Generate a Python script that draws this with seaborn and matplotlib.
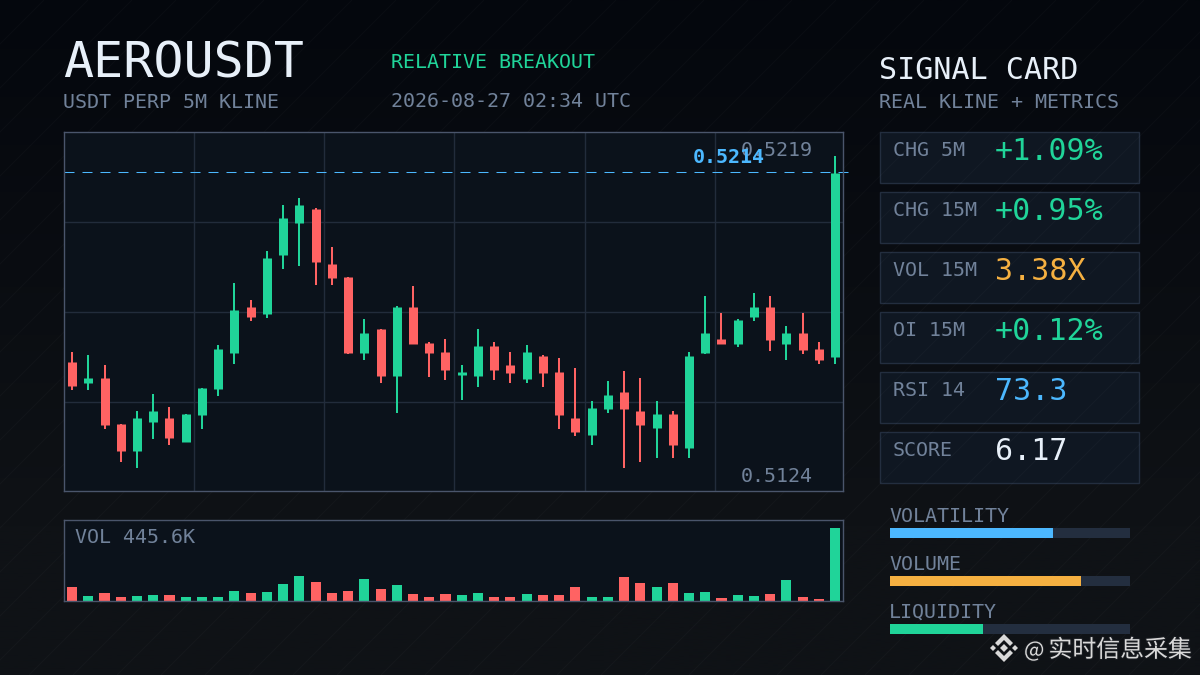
import numpy as np
import pandas as pd
import matplotlib
matplotlib.use("Agg")
import matplotlib.pyplot as plt
import matplotlib.patches as mpatches
import matplotlib.patheffects as pe
import seaborn as sns

# =========================
# DATA
# =========================

opens = [
    0.515628, 0.514988, 0.515140, 0.513740, 0.512918, 0.513801, 0.513922, 0.513192,
    0.514014, 0.514805, 0.515902, 0.517302, 0.517089, 0.518886, 0.519860, 0.520286,
    0.518612, 0.518216, 0.515902, 0.516632, 0.515201, 0.517302, 0.516206, 0.515932,
    0.515232, 0.515201, 0.516115, 0.515536, 0.515110, 0.515810, 0.515323, 0.513922,
    0.513405, 0.514196, 0.514714, 0.514136, 0.513618, 0.514044, 0.513009, 0.515902,
    0.516328, 0.516176, 0.516998, 0.517302, 0.516176, 0.516511, 0.516023, 0.515780,
]
closes = [
    0.514897, 0.515140, 0.513709, 0.512918, 0.513922, 0.514136, 0.513313, 0.514044,
    0.514836, 0.516023, 0.517211, 0.516998, 0.518794, 0.520012, 0.520408, 0.518673,
    0.518185, 0.515902, 0.516511, 0.515201, 0.517302, 0.516176, 0.515902, 0.515384,
    0.515323, 0.516115, 0.515384, 0.515293, 0.515932, 0.515293, 0.514014, 0.513496,
    0.514227, 0.514623, 0.514196, 0.513709, 0.514044, 0.513100, 0.515810, 0.516511,
    0.516176, 0.516906, 0.517302, 0.516297, 0.516511, 0.515993, 0.515688, 0.521383,
]
highs = [
    0.515932, 0.515841, 0.515536, 0.513740, 0.514136, 0.514653, 0.514257, 0.514044,
    0.514836, 0.516145, 0.518033, 0.517515, 0.519008, 0.520408, 0.520621, 0.520317,
    0.519129, 0.518216, 0.516937, 0.516632, 0.517333, 0.517942, 0.516237, 0.516328,
    0.515536, 0.516632, 0.516237, 0.515932, 0.516145, 0.515841, 0.515749, 0.515445,
    0.514440, 0.515049, 0.515354, 0.515140, 0.514440, 0.514136, 0.515932, 0.517637,
    0.517120, 0.516937, 0.517729, 0.517637, 0.516724, 0.517120, 0.516237, 0.521900,
]
lows = [
    0.514775, 0.514775, 0.513587, 0.512583, 0.512400, 0.513283, 0.513100, 0.513192,
    0.513587, 0.514592, 0.515567, 0.516876, 0.516967, 0.518459, 0.518551, 0.517972,
    0.517972, 0.515871, 0.515688, 0.514988, 0.514075, 0.516176, 0.515171, 0.515079,
    0.514470, 0.514866, 0.515079, 0.514988, 0.514988, 0.514866, 0.513587, 0.513374,
    0.513100, 0.514075, 0.512400, 0.512583, 0.512704, 0.512704, 0.512704, 0.515871,
    0.516176, 0.516084, 0.516876, 0.515963, 0.515688, 0.515871, 0.515567, 0.515567,
]
volumes_k = [
    82.7, 28.2, 46.4, 22.2, 28.2, 34.3, 34.3, 22.2, 22.2, 22.2, 58.5, 46.4,
    52.4, 106.9, 155.2, 118.9, 46.4, 58.5, 137.1, 70.6, 94.8, 40.3, 22.2, 40.3,
    34.3, 46.4, 22.2, 22.2, 40.3, 34.3, 34.3, 82.7, 22.2, 22.2, 149.2, 112.9,
    82.7, 112.9, 46.4, 52.4, 16.1, 34.3, 28.2, 40.3, 131.0, 22.2, 10.1, 445.6,
]

last_price = 0.5214
metric_names = ["CHG 5M", "CHG 15M", "VOL 15M", "OI 15M", "RSI 14", "SCORE"]
metric_values = ["+1.09%", "+0.95%", "3.38X", "+0.12%", "73.3", "6.17"]
gauge_names = ["VOLATILITY", "VOLUME", "LIQUIDITY"]
gauge_values = [68.0, 79.6, 38.8]

# =========================
# COLOURS
# =========================

GREEN = "#20d499"
RED = "#ff6363"
BLUE = "#4cb8ff"
ORANGE = "#f5b041"
WHITE = "#e8f0f9"
GREY = "#71829a"
PANEL = "#0b121b"
BORDER = "#4a556b"
GRID = "#222c3b"
MONO = "DejaVu Sans Mono"

metric_colors = [GREEN, GREEN, ORANGE, GREEN, BLUE, WHITE]
gauge_colors = [BLUE, ORANGE, GREEN]

sns.set_theme(style="dark", rc={"font.family": MONO})

W, H = 1200, 675
fig = plt.figure(figsize=(12, 6.75), dpi=100)


def box(x0, y0, x1, y1):
    # pixel box (top-left origin) to figure fractions
    return [x0 / W, 1 - y1 / H, (x1 - x0) / W, (y1 - y0) / H]


# =========================
# BACKGROUND
# =========================

bg = fig.add_axes([0, 0, 1, 1], zorder=0)
bg.set_xlim(0, W)
bg.set_ylim(H, 0)
bg.axis("off")
top = np.array([4, 7, 13]) / 255
bottom = np.array([15, 18, 22]) / 255
ramp = np.clip(np.linspace(0, 1, 256) / 0.78, 0, 1)[:, None, None]
bg.imshow(top + (bottom - top) * ramp, extent=[0, W, H, 0], aspect="auto")
for start in range(0, W + H, 44):
    bg.plot([start, start - H], [0, H], color="white", alpha=0.028, lw=0.7)

# metric cards
for i in range(len(metric_names)):
    y0 = 132.1 + 60 * i
    bg.add_patch(mpatches.Rectangle((880.1, y0), 259, 51, fc="#0f1722", ec="#232e3f", lw=1))

# =========================
# CANDLES
# =========================

candles = pd.DataFrame({
    "i": np.arange(len(opens)),
    "open": opens,
    "close": closes,
    "high": highs,
    "low": lows,
    "volume": volumes_k,
})
candles["side"] = np.where(candles["close"] >= candles["open"], "up", "down")
palette = {"up": GREEN, "down": RED}

wicks = candles.melt(id_vars=["i", "side"], value_vars=["high", "low"], value_name="price")
bodies = candles.melt(id_vars=["i", "side"], value_vars=["open", "close"], value_name="price")

ax = fig.add_axes(box(64.1, 132.1, 843.1, 491.1), zorder=1)
ax.set_facecolor(PANEL)

xlim = (-0.49, 47.49)
ylim = (0.51169, 0.52262)
# grid cells are 130 x 90 px
ax.set_xticks([xlim[0] + (xlim[1] - xlim[0]) * (130.1 * k) / 779 for k in range(1, 6)])
ax.set_yticks([ylim[1] - (ylim[1] - ylim[0]) * (90.1 * k) / 359 for k in range(1, 4)])
ax.grid(True, color=GRID, lw=1)
ax.set_axisbelow(True)

ax.axhline(last_price, xmin=0, xmax=1.006, color=BLUE, lw=0.75, dashes=(9.6, 7.68), clip_on=False, zorder=1.5)

sns.lineplot(data=wicks, x="i", y="price", hue="side", units="i", estimator=None, sort=False,
             palette=palette, linewidth=1.44, solid_capstyle="butt", legend=False, ax=ax, zorder=2)
sns.lineplot(data=bodies, x="i", y="price", hue="side", units="i", estimator=None, sort=False,
             palette=palette, linewidth=6.48, solid_capstyle="butt", legend=False, ax=ax, zorder=3)

ax.set_xlim(*xlim)
ax.set_ylim(*ylim)
ax.set_xlabel("")
ax.set_ylabel("")
ax.tick_params(length=0, labelbottom=False, labelleft=False)
for s in ax.spines.values():
    s.set_visible(True)
    s.set_color(BORDER)
    s.set_linewidth(1)

# =========================
# VOLUME
# =========================

vol_ax = fig.add_axes(box(64.1, 520.1, 843.1, 601.1), zorder=1)
vol_ax.set_facecolor(PANEL)
sns.barplot(data=candles, x="i", y="volume", hue="side", palette=palette, native_scale=True,
            dodge=False, width=0.62, errorbar=None, legend=False, saturation=1,
            linewidth=0, edgecolor="none", ax=vol_ax)
vol_ax.set_xlim(*xlim)
vol_ax.set_ylim(0, 492)
vol_ax.set_xlabel("")
vol_ax.set_ylabel("")
vol_ax.tick_params(length=0, labelbottom=False, labelleft=False)
vol_ax.grid(False)
for s in vol_ax.spines.values():
    s.set_visible(True)
    s.set_color(BORDER)
    s.set_linewidth(1)

# =========================
# GAUGES
# =========================

gauge_tops = [528, 576, 624]
for name, value, color, y0 in zip(gauge_names, gauge_values, gauge_colors, gauge_tops):
    g = fig.add_axes(box(890, y0, 1130, y0 + 10), zorder=1)
    g.set_facecolor("#232e3f")
    sns.barplot(x=[value], y=[name], orient="h", color=color, saturation=1, width=1,
                linewidth=0, edgecolor="none", ax=g)
    g.set_xlim(0, 100)
    g.set_ylim(0.5, -0.5)
    g.set_xlabel("")
    g.set_ylabel("")
    g.tick_params(length=0, labelbottom=False, labelleft=False)
    g.grid(False)
    for s in g.spines.values():
        s.set_visible(False)

# =========================
# TEXT
# =========================

top_ax = fig.add_axes([0, 0, 1, 1], zorder=5)
top_ax.set_xlim(0, W)
top_ax.set_ylim(H, 0)
top_ax.axis("off")


def label(x, y, s, size=14.4, color=GREY, **kw):
    top_ax.text(x, y, s, fontsize=size, color=color, family=MONO, va="baseline", ha="left", **kw)


label(63, 77, "AEROUSDT", size=36, color=WHITE)
label(63, 108, "USDT PERP 5M KLINE")
label(391, 68, "RELATIVE BREAKOUT", color=GREEN)
label(391, 107, "2026-08-27 02:34 UTC")
label(879, 79, "SIGNAL CARD", size=21.6, color=WHITE)
label(879, 108, "REAL KLINE + METRICS")

label(741, 156, "0.5219")
label(693, 163, "0.5214", color=BLUE, weight="bold")
label(741, 482, "0.5124")
label(75, 543, "VOL 445.6K")

for i, (name, value, color) in enumerate(zip(metric_names, metric_values, metric_colors)):
    label(893, 156 + 60 * i, name)
    label(995, 160 + 60 * i, value, size=21.6, color=color)

for name, y in zip(gauge_names, [522, 570, 618]):
    label(889, y, name)

# watermark
mark = "#d9d9d9"
cx, cy = 1004, 648
shapes = [
    [(-4, 0), (0, -4), (4, 0), (0, 4)],
    [(-14, 0), (-11, -3), (-8, 0), (-11, 3)],
    [(14, 0), (11, -3), (8, 0), (11, 3)],
    [(0, -14), (9, -5), (6, -2), (0, -8), (-6, -2), (-9, -5)],
    [(0, 14), (9, 5), (6, 2), (0, 8), (-6, 2), (-9, 5)],
]
for pts in shapes:
    top_ax.add_patch(mpatches.Polygon([(cx + a, cy + b) for a, b in pts], closed=True, fc=mark, ec="none"))
for x, s, size in [(1024, "@", 15.5), (1048.5, "实时信息采集", 17.2)]:
    wm = top_ax.text(x, 657, s, fontsize=size, color=mark, va="baseline", ha="left",
                     family=["Noto Sans CJK SC", "DejaVu Sans"])
    wm.set_path_effects([pe.withStroke(linewidth=1.5, foreground="#1a1d22")])

fig.savefig("out.png", dpi=100)
